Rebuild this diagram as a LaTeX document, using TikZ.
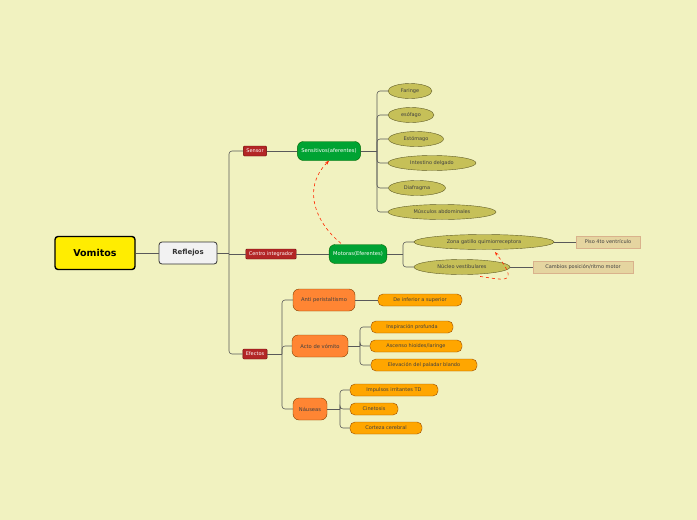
\documentclass[tikz,border=0pt]{standalone}
\usepackage{fontspec}
\setmainfont{DejaVu Sans}
\usetikzlibrary{shapes.geometric,arrows.meta}
\definecolor{bg}{HTML}{F1F2C0}
\tikzset{
 x=1pt,y=-1pt,
 lnk/.style={draw=gray!70!black,line width=0.6pt},
 br/.style={lnk,rounded corners=3pt},
 redn/.style={draw=red!40!black,fill=red!65!black!85!white,text=white,font=\fontsize{5}{6}\selectfont,minimum height=10pt,inner xsep=3pt,inner ysep=1pt,rounded corners=1pt},
 grn/.style={draw=green!40!black,fill=green!55!black!80!cyan,text=white,font=\fontsize{5.2}{6}\selectfont,minimum height=19pt,rounded corners=6pt,inner xsep=4pt},
 oliv/.style={ellipse,draw=olive!60!black,fill=olive!45!bg,text=black!75,font=\fontsize{5}{6}\selectfont,minimum height=15pt,inner sep=1pt},
 tan/.style={draw=brown!60,fill=brown!25!bg,text=black!75,font=\fontsize{5}{6}\selectfont,minimum height=12pt,inner xsep=4pt},
 orn/.style={draw=orange!50!black,fill=orange!80!red!80,text=black!75,font=\fontsize{5.2}{6}\selectfont,minimum height=22pt,rounded corners=6pt,inner xsep=4pt},
 ylw/.style={draw=orange!60!black,fill=orange!70!yellow,text=black!75,font=\fontsize{5}{6}\selectfont,minimum height=12pt,rounded corners=5pt,inner xsep=8pt},
 dsh/.style={draw=red!70!orange,dashed,line width=0.6pt,-{Stealth[length=4pt]}}
}
\begin{document}
\begin{tikzpicture}
\fill[bg] (0,0) rectangle (697,520);
\useasboundingbox (0,0) rectangle (697,520);
\node[draw=black,line width=1.4pt,fill=yellow!95!orange,rounded corners=3pt,minimum width=80pt,minimum height=33pt,font=\bfseries\fontsize{9.5}{11}\selectfont] (vom) at (95,253) {Vomitos};
\node[draw=black!80,line width=0.8pt,fill=gray!10,rounded corners=3pt,minimum width=58pt,minimum height=22pt,font=\bfseries\fontsize{7}{8}\selectfont,text=black!80] (ref) at (188,253) {Reflejos};
\node[redn] (sen) at (255,151) {Sensor};
\node[redn] (cen) at (271,254) {Centro integrador};
\node[redn] (efe) at (255,354) {Efectos};
\node[grn] (sens) at (329,151) {Sensitivos(aferentes)};
\node[grn] (mot) at (358,254) {Motoras(Eferentes)};
\node[oliv,minimum width=44pt] (f1) at (410,91) {Faringe};
\node[oliv,minimum width=46pt] (f2) at (411,115) {esófago};
\node[oliv,minimum width=55pt] (f3) at (416,139) {Estómago};
\node[oliv,minimum width=88pt] (f4) at (432,163) {Intestino delgado};
\node[oliv,minimum width=57pt] (f5) at (417,188) {Diafragma};
\node[oliv,minimum width=108pt] (f6) at (442,212) {Músculos abdominales};
\node[oliv,minimum width=140pt] (z) at (484,242) {Zona gatillo quimiorreceptora};
\node[oliv,minimum width=96pt] (n) at (462,267) {Núcleo vestibulares};
\node[tan,minimum width=64pt] (p) at (608,242) {Piso 4to ventrículo};
\node[tan,minimum width=100pt] (c) at (583,267) {Cambios posición/ritmo motor};
\node[orn,minimum width=62pt] (a1) at (324,300) {Anti peristaltismo};
\node[orn,minimum width=56pt] (a2) at (320,346) {Acto de vómito};
\node[orn,minimum width=34pt] (a3) at (310,409) {Náuseas};
\node[ylw,minimum width=84pt] (y1) at (420,300) {De inferior a superior};
\node[ylw,minimum width=82pt] (y2) at (412,327) {Inspiración profunda};
\node[ylw,minimum width=92pt] (y3) at (416,346) {Ascenso hioides/laringe};
\node[ylw,minimum width=106pt] (y4) at (424,365) {Elevación del paladar blando};
\node[ylw,minimum width=88pt] (y5) at (394,390) {Impulsos irritantes TD};
\node[ylw,minimum width=48pt] (y6) at (374,409) {Cinetosis};
\node[ylw,minimum width=72pt] (y7) at (386,428) {Corteza cerebral};
% links
\draw[lnk] (vom) -- (ref);
\draw[lnk] (ref) -- (229,253);
\draw[br] (sen.west) -- (229,151) -- (229,354) -- (efe.west);
\draw[lnk] (229,254) -- (cen.west);
\draw[lnk] (sen) -- (sens);
\draw[lnk] (cen) -- (mot);
\draw[lnk] (sens.east) -- (377,151);
\foreach \t in {f1,f2,f3,f4,f5,f6} \draw[br] (377,151) |- (\t.west);
\draw[lnk] (mot.east) -- (403,254);
\foreach \t in {z,n} \draw[br] (403,254) |- (\t.west);
\draw[lnk] (z) -- (p); \draw[lnk] (n) -- (c);
\draw[lnk] (efe.east) -- (282,354);
\foreach \t in {a1,a2,a3} \draw[br] (282,354) |- (\t.west);
\draw[lnk] (a1) -- (y1);
\draw[lnk] (a2.east) -- (360,346);
\foreach \t in {y2,y3,y4} \draw[br] (360,346) |- (\t.west);
\draw[lnk] (a3.east) -- (340,409);
\foreach \t in {y5,y6,y7} \draw[br] (340,409) |- (\t.west);
% dashed arrows
\draw[dsh] (mot.north west)+(12,-1) .. controls (318,225) and (300,190) .. (sens.south);
\draw[dsh] (n.south east)+(-16,4) .. controls (505,280) and (520,285) .. (495,252);
\end{tikzpicture}
\end{document}
